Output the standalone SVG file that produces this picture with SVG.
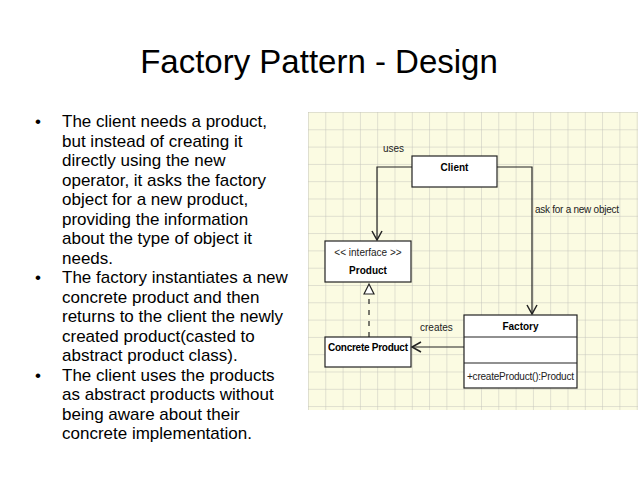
<svg xmlns="http://www.w3.org/2000/svg" width="638" height="478" viewBox="0 0 638 478">
<defs>
<pattern id="grid" x="308" y="112" width="17.3" height="17.3" patternUnits="userSpaceOnUse">
<path d="M0 0H17.3M0 0V17.3" fill="none" stroke="#c4c4bb" stroke-width="1"/>
</pattern>
<marker id="open" markerWidth="12" markerHeight="12" refX="10" refY="6" orient="auto" markerUnits="userSpaceOnUse">
<path d="M1 1L10 6L1 11" fill="none" stroke="#222" stroke-width="1.5"/>
</marker>
<marker id="tri" markerWidth="14" markerHeight="14" refX="11" refY="6" orient="auto" markerUnits="userSpaceOnUse">
<path d="M1 1L11 6L1 11Z" fill="#fff" stroke="#222" stroke-width="1.2"/>
</marker>
</defs>
<style>
.t{font-family:"Liberation Sans",Arial,sans-serif;font-size:17px;fill:#000}
.d{font-family:"Liberation Sans",Arial,sans-serif;font-size:10px;fill:#222}
.b{font-family:"Liberation Sans",Arial,sans-serif;font-size:10px;font-weight:bold;fill:#000}
.box{fill:#fff;stroke:#222;stroke-width:1.2}
.ln{fill:none;stroke:#222;stroke-width:1.2}
</style>
<rect width="638" height="478" fill="#fff"/>
<text x="319" y="73" text-anchor="middle" font-family="Liberation Sans,Arial,sans-serif" font-size="33">Factory Pattern - Design</text>
<g id="bullets">
<text class="t" x="35" y="127">•</text>
<text class="t" x="62" y="127">The client needs a product,</text>
<text class="t" x="62" y="146.5">but instead of creating it</text>
<text class="t" x="62" y="166">directly using the new</text>
<text class="t" x="62" y="185.5">operator, it asks the factory</text>
<text class="t" x="62" y="205">object for a new product,</text>
<text class="t" x="62" y="224.5">providing the information</text>
<text class="t" x="62" y="244">about the type of object it</text>
<text class="t" x="62" y="263.5">needs.</text>
<text class="t" x="35" y="283">•</text>
<text class="t" x="62" y="283">The factory instantiates a new</text>
<text class="t" x="62" y="302.5">concrete product and then</text>
<text class="t" x="62" y="322">returns to the client the newly</text>
<text class="t" x="62" y="341.5">created product(casted to</text>
<text class="t" x="62" y="361">abstract product class).</text>
<text class="t" x="35" y="380.5">•</text>
<text class="t" x="62" y="380.5">The client uses the products</text>
<text class="t" x="62" y="400">as abstract products without</text>
<text class="t" x="62" y="419.5">being aware about their</text>
<text class="t" x="62" y="439">concrete implementation.</text>
</g>
<rect x="308" y="112" width="330" height="298" fill="#fbfbe2"/>
<rect x="308" y="112" width="330" height="298" fill="url(#grid)"/>
<g id="connectors">
<path class="ln" d="M412 167H377V240" marker-end="url(#open)"/>
<path class="ln" d="M497 167H532V314" marker-end="url(#open)"/>
<path class="ln" d="M464 347H412" marker-end="url(#open)"/>
<path class="ln" d="M369 337V284" stroke-dasharray="5,6" marker-end="url(#tri)"/>
<text class="d" x="383" y="152">uses</text>
<text class="d" x="535" y="213" textLength="84">ask for a new object</text>
<text class="d" x="420" y="331">creates</text>
</g>
<g id="client"><rect class="box" x="412" y="156" width="85" height="31"/><text class="b" x="454.5" y="171" text-anchor="middle">Client</text></g>
<g id="product"><rect class="box" x="325" y="241" width="86" height="41"/><text class="d" x="368" y="256" text-anchor="middle" font-size="9">&lt;&lt; interface &gt;&gt;</text><text class="b" x="368" y="274" text-anchor="middle">Product</text></g>
<g id="concrete"><rect class="box" x="325" y="337" width="86" height="30"/><text class="b" x="368" y="351" text-anchor="middle" textLength="80">Concrete Product</text></g>
<g id="factory"><rect class="box" x="464" y="315" width="113" height="73"/><path class="ln" d="M464 337H577M464 363H577"/><text class="b" x="520.5" y="330" text-anchor="middle">Factory</text><text class="d" x="467" y="380" textLength="107">+createProduct():Product</text></g>
</svg>
